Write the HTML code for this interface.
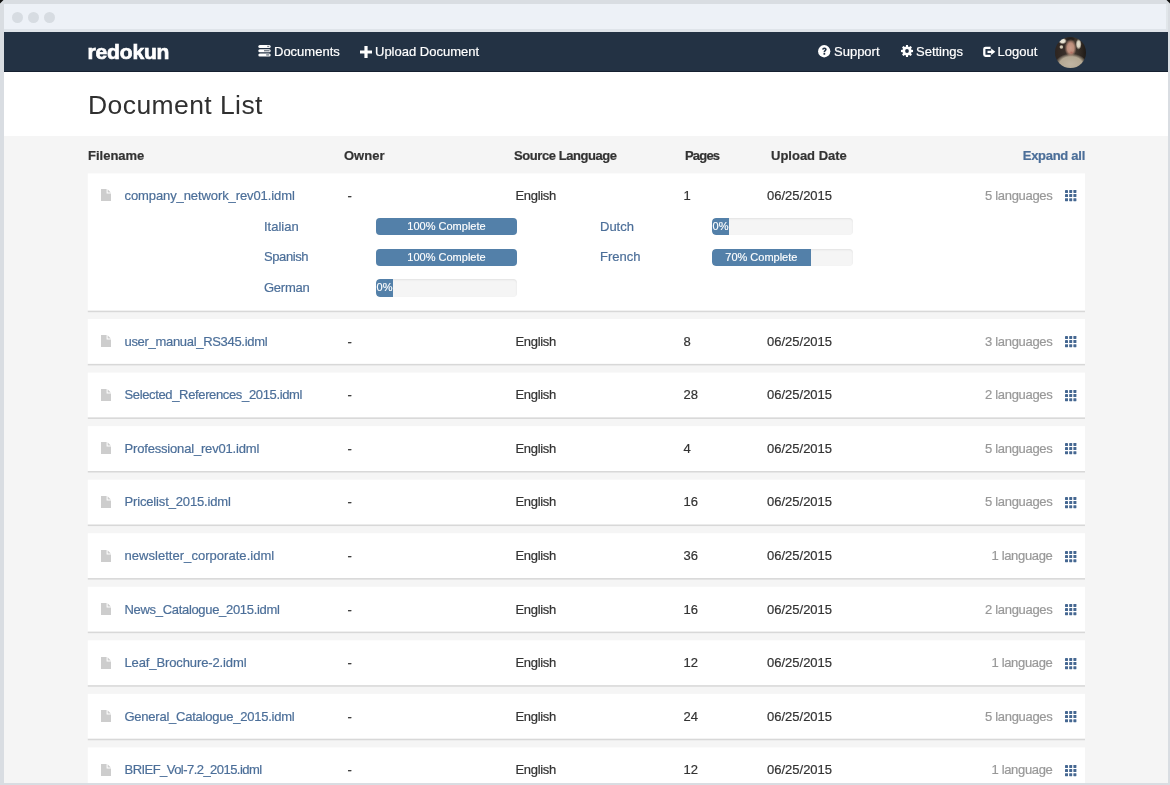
<!DOCTYPE html><html><head><meta charset="utf-8"><style>
*{margin:0;padding:0;box-sizing:border-box}
html,body{width:1170px;height:785px;overflow:hidden;background:#d9dde2;font-family:"Liberation Sans",sans-serif;}
.abs{position:absolute;white-space:nowrap}
#frame{position:absolute;left:4px;top:4px;width:1164px;height:779px;background:#f5f5f5;overflow:hidden;will-change:transform}
#tb{position:absolute;left:0;top:0;width:1162px;height:25px;background:#edf1f7}
#tbr{position:absolute;left:1162px;top:0;width:2px;height:25px;background:#e1e6ea}
#tbl{position:absolute;left:0;top:25px;width:1164px;height:3px;background:#dfe4ea}
.dot{position:absolute;top:8px;width:11px;height:11px;border-radius:50%;background:#d7dce2}
#nav{position:absolute;left:0;top:28px;width:1164px;height:40px;background:#233244;border-bottom:1px solid #152030}
#head{position:absolute;left:0;top:68px;width:1164px;height:64px;background:#fff}
.nt{font-size:13px;line-height:20px;color:#fff;-webkit-text-stroke:0.2px #fff}
.t{font-size:13px;line-height:20px;color:#333;-webkit-text-stroke:0.2px currentColor}
.th{font-weight:bold;color:#333}
.lk{color:#4c6f99}
.row{position:absolute;left:84px;width:997px;background:#fff;border-bottom:2px solid #dedede}
.fi{position:absolute}
.gi{position:absolute}
.lang{color:#999}
.bar{position:absolute;width:141px;height:17.5px;background:#f5f5f5;border-radius:4px;box-shadow:inset 0 1px 2px rgba(0,0,0,.08);overflow:hidden}
.fill{position:absolute;left:0;top:0;height:100%;background:#5380a9;color:#fff;font-size:11px;line-height:17.5px;text-align:center;white-space:nowrap;-webkit-text-stroke:0.15px #fff}
</style></head><body>
<svg class="abs" style="left:0;top:0" width="4" height="4"><path d="M0 0H3.5L0 3.5Z" fill="#111"/></svg>
<svg class="abs" style="left:1166px;top:0" width="4" height="4"><path d="M0.5 0H4V3.5Z" fill="#111"/></svg>
<div id="frame">
<div id="tb"></div><div id="tbr"></div><div id="tbl"></div>
<div class="dot" style="left:8px"></div>
<div class="dot" style="left:24px"></div>
<div class="dot" style="left:40px"></div>
<div id="nav"></div>
<div class="abs" style="left:83.5px;top:35.72px;font-size:21px;line-height:24px;font-weight:bold;color:#fff;letter-spacing:-0.15px;-webkit-text-stroke:0.7px #fff">redokun</div>
<svg class="abs" style="left:253.5px;top:41.00px" width="13" height="12" viewBox="0 0 13 12"><rect x="0.3" y="0" width="12.4" height="3" rx="1.5" fill="#fff"/><rect x="0.3" y="4.2" width="12.4" height="3" rx="1.5" fill="#fff"/><rect x="0.3" y="8.4" width="12.4" height="3.2" rx="1.5" fill="#fff"/><rect x="9.2" y="0.8" width="2" height="1.3" fill="#233244" opacity=".6"/><rect x="6" y="5" width="5.5" height="1.4" fill="#233244" opacity=".6"/><rect x="8.2" y="9.2" width="3" height="1.4" fill="#233244" opacity=".6"/></svg>
<div class="abs nt" style="left:270px;top:38.00px">Documents</div>
<svg class="abs" style="left:355.8px;top:41.80px" width="12" height="12" viewBox="0 0 12 12"><path d="M4.4 0H7.6V4.4H12V7.6H7.6V12H4.4V7.6H0V4.4H4.4Z" fill="#fff"/></svg>
<div class="abs nt" style="left:371px;top:38.00px">Upload Document</div>
<svg class="abs" style="left:814.4px;top:40.90px" width="13" height="13" viewBox="0 0 13 13"><circle cx="6.2" cy="6.25" r="6.15" fill="#fff"/><path d="M4.1 4.6C4.2 3.3 5.1 2.6 6.4 2.6C7.8 2.6 8.7 3.4 8.7 4.5C8.7 5.9 7.1 6 7.1 7.3H5.5C5.5 5.6 7 5.4 7 4.6C7 4.1 6.7 3.9 6.3 3.9C5.9 3.9 5.6 4.2 5.6 4.7Z" fill="#233244"/><rect x="5.5" y="8.1" width="1.7" height="1.6" rx=".3" fill="#233244"/></svg>
<div class="abs nt" style="left:830px;top:38.00px">Support</div>
<svg class="abs" style="left:896px;top:40.20px" width="14" height="14" viewBox="-7 -7 14 14"><path fill="#fff" d="M-1.40,-3.85 L-0.95,-6.02 L0.95,-6.02 L1.40,-3.85 L1.73,-3.72 L3.59,-4.94 L4.94,-3.59 L3.72,-1.73 L3.85,-1.40 L6.02,-0.95 L6.02,0.95 L3.85,1.40 L3.72,1.73 L4.94,3.59 L3.59,4.94 L1.73,3.72 L1.40,3.85 L0.95,6.02 L-0.95,6.02 L-1.40,3.85 L-1.73,3.72 L-3.59,4.94 L-4.94,3.59 L-3.72,1.73 L-3.85,1.40 L-6.02,0.95 L-6.02,-0.95 L-3.85,-1.40 L-3.72,-1.73 L-4.94,-3.59 L-3.59,-4.94 L-1.73,-3.72 Z"/><circle r="4.3" fill="#fff"/><circle r="1.9" fill="#233244"/></svg>
<div class="abs nt" style="left:912px;top:38.00px">Settings</div>
<svg class="abs" style="left:978px;top:41.50px" width="14" height="12" viewBox="0 0 14 12"><path d="M8.6 1.8H3.5Q2.3 1.8 2.3 3V8.6Q2.3 9.8 3.5 9.8H8.6" fill="none" stroke="#fff" stroke-width="2.3"/><path d="M5.5 4.7H9.2V2.6L13.3 5.8L9.2 9V6.9H5.5Z" fill="#fff"/></svg>
<div class="abs nt" style="left:993.5px;top:38.00px">Logout</div>
<div class="abs" style="left:1051.4px;top:32.80px;width:30.8px;height:30.8px;border-radius:50%;overflow:hidden;background:radial-gradient(2.5px 1.6px at 16.5px 15.6px,#b27062 0,transparent 100%),radial-gradient(6px 9px at 15.6px 11px,#c99c8a 0,#bb8d7a 55%,transparent 100%),radial-gradient(5.5px 2.8px at 15.5px 1.8px,#241e1b 0,#2b2420 60%,transparent 100%),radial-gradient(4.2px 3.2px at 7.6px 4px,#eeeadc 0,#e2dccb 55%,transparent 100%),radial-gradient(3px 5.5px at 23.6px 7.2px,#e4dfcf 0,#d6cfbd 55%,transparent 100%),radial-gradient(2.2px 2.2px at 6.4px 10px,#d8d0bc 0,#cfc6b1 50%,transparent 100%),radial-gradient(16px 10.5px at 16px 27px,#c0b5a3 0,#b3a792 70%,transparent 100%),linear-gradient(90deg,#2c2420 0,#3a302a 35%,#4a3e34 55%,#2e2722 85%,#1e1a17 100%)"></div>
<div id="head"></div>
<div class="abs" style="left:84px;top:84.12px;font-size:26.5px;line-height:34px;color:#303030;letter-spacing:0.42px">Document List</div>
<div class="abs t th" style="left:84px;top:142.00px">Filename</div>
<div class="abs t th" style="left:340px;top:142.00px">Owner</div>
<div class="abs t th" style="left:510px;top:142.00px;letter-spacing:-0.429px">Source Language</div>
<div class="abs t th" style="left:681px;top:142.00px;letter-spacing:-0.800px">Pages</div>
<div class="abs t th" style="left:767px;top:142.00px">Upload Date</div>
<div class="abs t th lk" style="left:-4px;top:142.00px;left:auto;right:83px;letter-spacing:-0.278px">Expand all</div>
<svg class="abs" style="left:0;top:0" width="1164" height="779" viewBox="4 4 1164 779"><rect x="87.8" y="173.4" width="997.2" height="137.3" fill="#fff"/><rect x="87.8" y="310.7" width="997.2" height="1.5" fill="#d8d8d8"/><rect x="87.8" y="319.00" width="997.2" height="44.9" fill="#fff"/><rect x="87.8" y="363.90" width="997.2" height="1.5" fill="#d8d8d8"/><rect x="87.8" y="372.55" width="997.2" height="44.9" fill="#fff"/><rect x="87.8" y="417.45" width="997.2" height="1.5" fill="#d8d8d8"/><rect x="87.8" y="426.10" width="997.2" height="44.9" fill="#fff"/><rect x="87.8" y="471.00" width="997.2" height="1.5" fill="#d8d8d8"/><rect x="87.8" y="479.65" width="997.2" height="44.9" fill="#fff"/><rect x="87.8" y="524.55" width="997.2" height="1.5" fill="#d8d8d8"/><rect x="87.8" y="533.20" width="997.2" height="44.9" fill="#fff"/><rect x="87.8" y="578.10" width="997.2" height="1.5" fill="#d8d8d8"/><rect x="87.8" y="586.75" width="997.2" height="44.9" fill="#fff"/><rect x="87.8" y="631.65" width="997.2" height="1.5" fill="#d8d8d8"/><rect x="87.8" y="640.30" width="997.2" height="44.9" fill="#fff"/><rect x="87.8" y="685.20" width="997.2" height="1.5" fill="#d8d8d8"/><rect x="87.8" y="693.85" width="997.2" height="44.9" fill="#fff"/><rect x="87.8" y="738.75" width="997.2" height="1.5" fill="#d8d8d8"/><rect x="87.8" y="747.40" width="997.2" height="44.9" fill="#fff"/><rect x="87.8" y="792.30" width="997.2" height="1.5" fill="#d8d8d8"/></svg>
<div class="abs" style="left:97.3px;top:185.40px"><svg class="fi" width="10" height="12" viewBox="0 0 10 12"><path d="M0 0H5.6V4.6H10V12H0Z" fill="#cdcdcd"/><path d="M6.6 0.2L9.8 3.6H6.6Z" fill="#cdcdcd"/></svg></div>
<div class="abs t lk" style="left:120.5px;top:181.90px;letter-spacing:-0.096px">company_network_rev01.idml</div>
<div class="abs t" style="left:343.5px;top:181.90px">-</div>
<div class="abs t" style="left:511.5px;top:181.90px;letter-spacing:-0.333px">English</div>
<div class="abs t" style="left:679.5px;top:181.90px">1</div>
<div class="abs t" style="left:763px;top:181.90px">06/25/2015</div>
<div class="abs t lang" style="top:181.90px;right:115.5px;letter-spacing:-0.300px">5 languages</div>
<div class="abs" style="left:1060.7px;top:186.40px"><svg class="gi" width="12" height="12" viewBox="0 0 12 12"><rect x="0" y="0" width="3" height="3" rx="0.4" fill="#456791"/><rect x="0" y="4.1" width="3" height="3" rx="0.4" fill="#456791"/><rect x="0" y="8.2" width="3" height="3" rx="0.4" fill="#456791"/><rect x="4.2" y="0" width="3" height="3" rx="0.4" fill="#456791"/><rect x="4.2" y="4.1" width="3" height="3" rx="0.4" fill="#456791"/><rect x="4.2" y="8.2" width="3" height="3" rx="0.4" fill="#456791"/><rect x="8.4" y="0" width="3" height="3" rx="0.4" fill="#456791"/><rect x="8.4" y="4.1" width="3" height="3" rx="0.4" fill="#456791"/><rect x="8.4" y="8.2" width="3" height="3" rx="0.4" fill="#456791"/></svg></div>
<div class="abs t lk" style="left:260px;top:212.50px">Italian</div>
<div class="bar" style="left:372px;top:213.75px"><div class="fill" style="width:141.0px;">100% Complete</div></div>
<div class="abs t lk" style="left:260px;top:243.25px;letter-spacing:-0.400px">Spanish</div>
<div class="bar" style="left:372px;top:244.50px"><div class="fill" style="width:141.0px;">100% Complete</div></div>
<div class="abs t lk" style="left:260px;top:274.00px;letter-spacing:-0.250px">German</div>
<div class="bar" style="left:372px;top:275.25px"><div class="fill" style="width:17px;border-radius:4px 0 0 4px">0%</div></div>
<div class="abs t lk" style="left:596px;top:212.50px">Dutch</div>
<div class="bar" style="left:708px;top:213.75px"><div class="fill" style="width:17px;border-radius:4px 0 0 4px">0%</div></div>
<div class="abs t lk" style="left:596px;top:243.25px">French</div>
<div class="bar" style="left:708px;top:244.50px"><div class="fill" style="width:98.7px;border-radius:4px 0 0 4px">70% Complete</div></div>
<div class="abs" style="left:97.3px;top:331.30px"><svg class="fi" width="10" height="12" viewBox="0 0 10 12"><path d="M0 0H5.6V4.6H10V12H0Z" fill="#cdcdcd"/><path d="M6.6 0.2L9.8 3.6H6.6Z" fill="#cdcdcd"/></svg></div>
<div class="abs t lk" style="left:120.5px;top:327.80px;letter-spacing:-0.310px">user_manual_RS345.idml</div>
<div class="abs t" style="left:343.5px;top:327.80px">-</div>
<div class="abs t" style="left:511.5px;top:327.80px;letter-spacing:-0.333px">English</div>
<div class="abs t" style="left:679.5px;top:327.80px">8</div>
<div class="abs t" style="left:763px;top:327.80px">06/25/2015</div>
<div class="abs t lang" style="top:327.80px;right:115.5px;letter-spacing:-0.300px">3 languages</div>
<div class="abs" style="left:1060.7px;top:332.30px"><svg class="gi" width="12" height="12" viewBox="0 0 12 12"><rect x="0" y="0" width="3" height="3" rx="0.4" fill="#456791"/><rect x="0" y="4.1" width="3" height="3" rx="0.4" fill="#456791"/><rect x="0" y="8.2" width="3" height="3" rx="0.4" fill="#456791"/><rect x="4.2" y="0" width="3" height="3" rx="0.4" fill="#456791"/><rect x="4.2" y="4.1" width="3" height="3" rx="0.4" fill="#456791"/><rect x="4.2" y="8.2" width="3" height="3" rx="0.4" fill="#456791"/><rect x="8.4" y="0" width="3" height="3" rx="0.4" fill="#456791"/><rect x="8.4" y="4.1" width="3" height="3" rx="0.4" fill="#456791"/><rect x="8.4" y="8.2" width="3" height="3" rx="0.4" fill="#456791"/></svg></div>
<div class="abs" style="left:97.3px;top:384.85px"><svg class="fi" width="10" height="12" viewBox="0 0 10 12"><path d="M0 0H5.6V4.6H10V12H0Z" fill="#cdcdcd"/><path d="M6.6 0.2L9.8 3.6H6.6Z" fill="#cdcdcd"/></svg></div>
<div class="abs t lk" style="left:120.5px;top:381.35px;letter-spacing:-0.357px">Selected_References_2015.idml</div>
<div class="abs t" style="left:343.5px;top:381.35px">-</div>
<div class="abs t" style="left:511.5px;top:381.35px;letter-spacing:-0.333px">English</div>
<div class="abs t" style="left:679.5px;top:381.35px">28</div>
<div class="abs t" style="left:763px;top:381.35px">06/25/2015</div>
<div class="abs t lang" style="top:381.35px;right:115.5px;letter-spacing:-0.300px">2 languages</div>
<div class="abs" style="left:1060.7px;top:385.85px"><svg class="gi" width="12" height="12" viewBox="0 0 12 12"><rect x="0" y="0" width="3" height="3" rx="0.4" fill="#456791"/><rect x="0" y="4.1" width="3" height="3" rx="0.4" fill="#456791"/><rect x="0" y="8.2" width="3" height="3" rx="0.4" fill="#456791"/><rect x="4.2" y="0" width="3" height="3" rx="0.4" fill="#456791"/><rect x="4.2" y="4.1" width="3" height="3" rx="0.4" fill="#456791"/><rect x="4.2" y="8.2" width="3" height="3" rx="0.4" fill="#456791"/><rect x="8.4" y="0" width="3" height="3" rx="0.4" fill="#456791"/><rect x="8.4" y="4.1" width="3" height="3" rx="0.4" fill="#456791"/><rect x="8.4" y="8.2" width="3" height="3" rx="0.4" fill="#456791"/></svg></div>
<div class="abs" style="left:97.3px;top:438.40px"><svg class="fi" width="10" height="12" viewBox="0 0 10 12"><path d="M0 0H5.6V4.6H10V12H0Z" fill="#cdcdcd"/><path d="M6.6 0.2L9.8 3.6H6.6Z" fill="#cdcdcd"/></svg></div>
<div class="abs t lk" style="left:120.5px;top:434.90px;letter-spacing:-0.177px">Professional_rev01.idml</div>
<div class="abs t" style="left:343.5px;top:434.90px">-</div>
<div class="abs t" style="left:511.5px;top:434.90px;letter-spacing:-0.333px">English</div>
<div class="abs t" style="left:679.5px;top:434.90px">4</div>
<div class="abs t" style="left:763px;top:434.90px">06/25/2015</div>
<div class="abs t lang" style="top:434.90px;right:115.5px;letter-spacing:-0.300px">5 languages</div>
<div class="abs" style="left:1060.7px;top:439.40px"><svg class="gi" width="12" height="12" viewBox="0 0 12 12"><rect x="0" y="0" width="3" height="3" rx="0.4" fill="#456791"/><rect x="0" y="4.1" width="3" height="3" rx="0.4" fill="#456791"/><rect x="0" y="8.2" width="3" height="3" rx="0.4" fill="#456791"/><rect x="4.2" y="0" width="3" height="3" rx="0.4" fill="#456791"/><rect x="4.2" y="4.1" width="3" height="3" rx="0.4" fill="#456791"/><rect x="4.2" y="8.2" width="3" height="3" rx="0.4" fill="#456791"/><rect x="8.4" y="0" width="3" height="3" rx="0.4" fill="#456791"/><rect x="8.4" y="4.1" width="3" height="3" rx="0.4" fill="#456791"/><rect x="8.4" y="8.2" width="3" height="3" rx="0.4" fill="#456791"/></svg></div>
<div class="abs" style="left:97.3px;top:491.95px"><svg class="fi" width="10" height="12" viewBox="0 0 10 12"><path d="M0 0H5.6V4.6H10V12H0Z" fill="#cdcdcd"/><path d="M6.6 0.2L9.8 3.6H6.6Z" fill="#cdcdcd"/></svg></div>
<div class="abs t lk" style="left:120.5px;top:488.45px;letter-spacing:-0.150px">Pricelist_2015.idml</div>
<div class="abs t" style="left:343.5px;top:488.45px">-</div>
<div class="abs t" style="left:511.5px;top:488.45px;letter-spacing:-0.333px">English</div>
<div class="abs t" style="left:679.5px;top:488.45px">16</div>
<div class="abs t" style="left:763px;top:488.45px">06/25/2015</div>
<div class="abs t lang" style="top:488.45px;right:115.5px;letter-spacing:-0.300px">5 languages</div>
<div class="abs" style="left:1060.7px;top:492.95px"><svg class="gi" width="12" height="12" viewBox="0 0 12 12"><rect x="0" y="0" width="3" height="3" rx="0.4" fill="#456791"/><rect x="0" y="4.1" width="3" height="3" rx="0.4" fill="#456791"/><rect x="0" y="8.2" width="3" height="3" rx="0.4" fill="#456791"/><rect x="4.2" y="0" width="3" height="3" rx="0.4" fill="#456791"/><rect x="4.2" y="4.1" width="3" height="3" rx="0.4" fill="#456791"/><rect x="4.2" y="8.2" width="3" height="3" rx="0.4" fill="#456791"/><rect x="8.4" y="0" width="3" height="3" rx="0.4" fill="#456791"/><rect x="8.4" y="4.1" width="3" height="3" rx="0.4" fill="#456791"/><rect x="8.4" y="8.2" width="3" height="3" rx="0.4" fill="#456791"/></svg></div>
<div class="abs" style="left:97.3px;top:545.50px"><svg class="fi" width="10" height="12" viewBox="0 0 10 12"><path d="M0 0H5.6V4.6H10V12H0Z" fill="#cdcdcd"/><path d="M6.6 0.2L9.8 3.6H6.6Z" fill="#cdcdcd"/></svg></div>
<div class="abs t lk" style="left:120.5px;top:542.00px;letter-spacing:0.037px">newsletter_corporate.idml</div>
<div class="abs t" style="left:343.5px;top:542.00px">-</div>
<div class="abs t" style="left:511.5px;top:542.00px;letter-spacing:-0.333px">English</div>
<div class="abs t" style="left:679.5px;top:542.00px">36</div>
<div class="abs t" style="left:763px;top:542.00px">06/25/2015</div>
<div class="abs t lang" style="top:542.00px;right:115.5px;letter-spacing:-0.333px">1 language</div>
<div class="abs" style="left:1060.7px;top:546.50px"><svg class="gi" width="12" height="12" viewBox="0 0 12 12"><rect x="0" y="0" width="3" height="3" rx="0.4" fill="#456791"/><rect x="0" y="4.1" width="3" height="3" rx="0.4" fill="#456791"/><rect x="0" y="8.2" width="3" height="3" rx="0.4" fill="#456791"/><rect x="4.2" y="0" width="3" height="3" rx="0.4" fill="#456791"/><rect x="4.2" y="4.1" width="3" height="3" rx="0.4" fill="#456791"/><rect x="4.2" y="8.2" width="3" height="3" rx="0.4" fill="#456791"/><rect x="8.4" y="0" width="3" height="3" rx="0.4" fill="#456791"/><rect x="8.4" y="4.1" width="3" height="3" rx="0.4" fill="#456791"/><rect x="8.4" y="8.2" width="3" height="3" rx="0.4" fill="#456791"/></svg></div>
<div class="abs" style="left:97.3px;top:599.05px"><svg class="fi" width="10" height="12" viewBox="0 0 10 12"><path d="M0 0H5.6V4.6H10V12H0Z" fill="#cdcdcd"/><path d="M6.6 0.2L9.8 3.6H6.6Z" fill="#cdcdcd"/></svg></div>
<div class="abs t lk" style="left:120.5px;top:595.55px;letter-spacing:-0.313px">News_Catalogue_2015.idml</div>
<div class="abs t" style="left:343.5px;top:595.55px">-</div>
<div class="abs t" style="left:511.5px;top:595.55px;letter-spacing:-0.333px">English</div>
<div class="abs t" style="left:679.5px;top:595.55px">16</div>
<div class="abs t" style="left:763px;top:595.55px">06/25/2015</div>
<div class="abs t lang" style="top:595.55px;right:115.5px;letter-spacing:-0.300px">2 languages</div>
<div class="abs" style="left:1060.7px;top:600.05px"><svg class="gi" width="12" height="12" viewBox="0 0 12 12"><rect x="0" y="0" width="3" height="3" rx="0.4" fill="#456791"/><rect x="0" y="4.1" width="3" height="3" rx="0.4" fill="#456791"/><rect x="0" y="8.2" width="3" height="3" rx="0.4" fill="#456791"/><rect x="4.2" y="0" width="3" height="3" rx="0.4" fill="#456791"/><rect x="4.2" y="4.1" width="3" height="3" rx="0.4" fill="#456791"/><rect x="4.2" y="8.2" width="3" height="3" rx="0.4" fill="#456791"/><rect x="8.4" y="0" width="3" height="3" rx="0.4" fill="#456791"/><rect x="8.4" y="4.1" width="3" height="3" rx="0.4" fill="#456791"/><rect x="8.4" y="8.2" width="3" height="3" rx="0.4" fill="#456791"/></svg></div>
<div class="abs" style="left:97.3px;top:652.60px"><svg class="fi" width="10" height="12" viewBox="0 0 10 12"><path d="M0 0H5.6V4.6H10V12H0Z" fill="#cdcdcd"/><path d="M6.6 0.2L9.8 3.6H6.6Z" fill="#cdcdcd"/></svg></div>
<div class="abs t lk" style="left:120.5px;top:649.10px;letter-spacing:-0.116px">Leaf_Brochure-2.idml</div>
<div class="abs t" style="left:343.5px;top:649.10px">-</div>
<div class="abs t" style="left:511.5px;top:649.10px;letter-spacing:-0.333px">English</div>
<div class="abs t" style="left:679.5px;top:649.10px">12</div>
<div class="abs t" style="left:763px;top:649.10px">06/25/2015</div>
<div class="abs t lang" style="top:649.10px;right:115.5px;letter-spacing:-0.333px">1 language</div>
<div class="abs" style="left:1060.7px;top:653.60px"><svg class="gi" width="12" height="12" viewBox="0 0 12 12"><rect x="0" y="0" width="3" height="3" rx="0.4" fill="#456791"/><rect x="0" y="4.1" width="3" height="3" rx="0.4" fill="#456791"/><rect x="0" y="8.2" width="3" height="3" rx="0.4" fill="#456791"/><rect x="4.2" y="0" width="3" height="3" rx="0.4" fill="#456791"/><rect x="4.2" y="4.1" width="3" height="3" rx="0.4" fill="#456791"/><rect x="4.2" y="8.2" width="3" height="3" rx="0.4" fill="#456791"/><rect x="8.4" y="0" width="3" height="3" rx="0.4" fill="#456791"/><rect x="8.4" y="4.1" width="3" height="3" rx="0.4" fill="#456791"/><rect x="8.4" y="8.2" width="3" height="3" rx="0.4" fill="#456791"/></svg></div>
<div class="abs" style="left:97.3px;top:706.15px"><svg class="fi" width="10" height="12" viewBox="0 0 10 12"><path d="M0 0H5.6V4.6H10V12H0Z" fill="#cdcdcd"/><path d="M6.6 0.2L9.8 3.6H6.6Z" fill="#cdcdcd"/></svg></div>
<div class="abs t lk" style="left:120.5px;top:702.65px;letter-spacing:-0.238px">General_Catalogue_2015.idml</div>
<div class="abs t" style="left:343.5px;top:702.65px">-</div>
<div class="abs t" style="left:511.5px;top:702.65px;letter-spacing:-0.333px">English</div>
<div class="abs t" style="left:679.5px;top:702.65px">24</div>
<div class="abs t" style="left:763px;top:702.65px">06/25/2015</div>
<div class="abs t lang" style="top:702.65px;right:115.5px;letter-spacing:-0.300px">5 languages</div>
<div class="abs" style="left:1060.7px;top:707.15px"><svg class="gi" width="12" height="12" viewBox="0 0 12 12"><rect x="0" y="0" width="3" height="3" rx="0.4" fill="#456791"/><rect x="0" y="4.1" width="3" height="3" rx="0.4" fill="#456791"/><rect x="0" y="8.2" width="3" height="3" rx="0.4" fill="#456791"/><rect x="4.2" y="0" width="3" height="3" rx="0.4" fill="#456791"/><rect x="4.2" y="4.1" width="3" height="3" rx="0.4" fill="#456791"/><rect x="4.2" y="8.2" width="3" height="3" rx="0.4" fill="#456791"/><rect x="8.4" y="0" width="3" height="3" rx="0.4" fill="#456791"/><rect x="8.4" y="4.1" width="3" height="3" rx="0.4" fill="#456791"/><rect x="8.4" y="8.2" width="3" height="3" rx="0.4" fill="#456791"/></svg></div>
<div class="abs" style="left:97.3px;top:759.70px"><svg class="fi" width="10" height="12" viewBox="0 0 10 12"><path d="M0 0H5.6V4.6H10V12H0Z" fill="#cdcdcd"/><path d="M6.6 0.2L9.8 3.6H6.6Z" fill="#cdcdcd"/></svg></div>
<div class="abs t lk" style="left:120.5px;top:756.20px;letter-spacing:-0.545px">BRIEF_Vol-7.2_2015.idml</div>
<div class="abs t" style="left:343.5px;top:756.20px">-</div>
<div class="abs t" style="left:511.5px;top:756.20px;letter-spacing:-0.333px">English</div>
<div class="abs t" style="left:679.5px;top:756.20px">12</div>
<div class="abs t" style="left:763px;top:756.20px">06/25/2015</div>
<div class="abs t lang" style="top:756.20px;right:115.5px;letter-spacing:-0.333px">1 language</div>
<div class="abs" style="left:1060.7px;top:760.70px"><svg class="gi" width="12" height="12" viewBox="0 0 12 12"><rect x="0" y="0" width="3" height="3" rx="0.4" fill="#456791"/><rect x="0" y="4.1" width="3" height="3" rx="0.4" fill="#456791"/><rect x="0" y="8.2" width="3" height="3" rx="0.4" fill="#456791"/><rect x="4.2" y="0" width="3" height="3" rx="0.4" fill="#456791"/><rect x="4.2" y="4.1" width="3" height="3" rx="0.4" fill="#456791"/><rect x="4.2" y="8.2" width="3" height="3" rx="0.4" fill="#456791"/><rect x="8.4" y="0" width="3" height="3" rx="0.4" fill="#456791"/><rect x="8.4" y="4.1" width="3" height="3" rx="0.4" fill="#456791"/><rect x="8.4" y="8.2" width="3" height="3" rx="0.4" fill="#456791"/></svg></div>
</div></body></html>
